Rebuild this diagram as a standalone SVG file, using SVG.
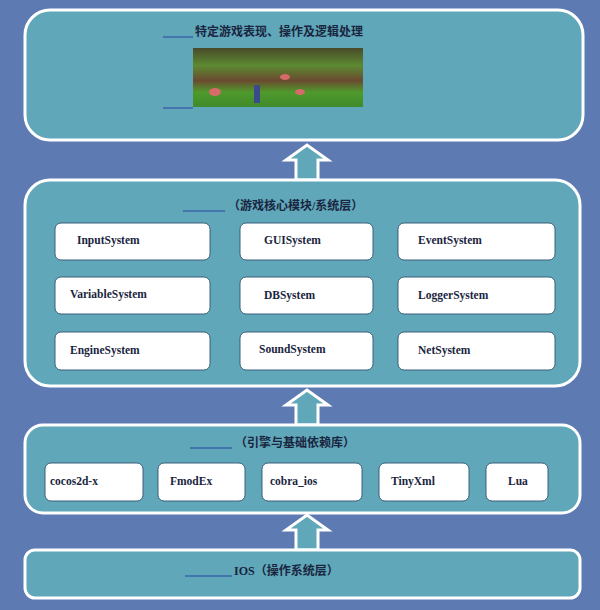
<svg xmlns="http://www.w3.org/2000/svg" width="600" height="610" viewBox="0 0 600 610">
<defs>
<style>
.panel{fill:#5fa7b9;stroke:#fff;stroke-width:3}
.box{fill:#fff;stroke:#3d5f7a;stroke-width:1}
.t{font-family:"Liberation Serif","Noto Sans CJK SC",serif;font-weight:bold;font-size:11.5px;fill:#1a2540}
.h{font-family:"Liberation Serif","Noto Sans CJK SC",serif;font-weight:bold;font-size:12px;fill:#1a2540}
.ul{stroke:#2a45a0;stroke-width:1}
.arr{fill:#5fa7b9;stroke:#fff;stroke-width:3}
</style>
<linearGradient id="g1" x1="0" y1="0" x2="0" y2="1">
<stop offset="0" stop-color="#4a4a2a"/><stop offset="0.3" stop-color="#5c8a32"/><stop offset="0.55" stop-color="#6b4a30"/><stop offset="0.75" stop-color="#4f9a2c"/><stop offset="1" stop-color="#3f8a2a"/>
</linearGradient>
</defs>
<rect width="600" height="610" fill="#5e7ab2"/>
<g id="layer-game">
<rect class="panel" x="25" y="10" width="558" height="130" rx="25"/>
<line class="ul" x1="163" y1="37" x2="193" y2="37"/>
<text class="h" x="195" y="36">特定游戏表现、操作及逻辑处理</text>
<rect x="193" y="48" width="170" height="59" fill="url(#g1)"/>
<ellipse cx="215" cy="92" rx="6" ry="4" fill="#d86a6a"/>
<ellipse cx="285" cy="77" rx="5" ry="3" fill="#d86a6a"/>
<ellipse cx="300" cy="92" rx="5" ry="3" fill="#d86a6a"/>
<rect x="254" y="85" width="6" height="18" fill="#3a4a8a"/>
<line class="ul" x1="163" y1="108" x2="193" y2="108"/>
</g>
<g id="connectors">
<path class="arr" d="M296,180 V160 H286 L307,145 L328,160 H318 V180 Z"/>
<path class="arr" d="M296,425 V405 H286 L307,390 L328,405 H318 V425 Z"/>
<path class="arr" d="M296,550 V530 H286 L307,515 L328,530 H318 V550 Z"/>
</g>
<g id="layer-core">
<rect class="panel" x="25" y="180" width="555" height="206" rx="25"/>
<line class="ul" x1="183" y1="211" x2="225" y2="211"/>
<text class="h" x="228" y="210">（游戏核心模块/系统层）</text>
</g>
<g id="n-input"><rect class="box" x="55" y="223" width="155" height="37" rx="6"/><text class="t" x="77" y="244">InputSystem</text></g>
<g id="n-gui"><rect class="box" x="240" y="223" width="133" height="37" rx="6"/><text class="t" x="264" y="244">GUISystem</text></g>
<g id="n-event"><rect class="box" x="398" y="223" width="157" height="37" rx="6"/><text class="t" x="418" y="244">EventSystem</text></g>
<g id="n-var"><rect class="box" x="55" y="277" width="155" height="37" rx="6"/><text class="t" x="70" y="298">VariableSystem</text></g>
<g id="n-db"><rect class="box" x="240" y="277" width="133" height="37" rx="6"/><text class="t" x="264" y="299">DBSystem</text></g>
<g id="n-logger"><rect class="box" x="398" y="277" width="157" height="37" rx="6"/><text class="t" x="418" y="299">LoggerSystem</text></g>
<g id="n-engine"><rect class="box" x="55" y="332" width="155" height="38" rx="6"/><text class="t" x="70" y="354">EngineSystem</text></g>
<g id="n-sound"><rect class="box" x="240" y="332" width="133" height="38" rx="6"/><text class="t" x="259" y="353">SoundSystem</text></g>
<g id="n-net"><rect class="box" x="398" y="332" width="157" height="38" rx="6"/><text class="t" x="418" y="354">NetSystem</text></g>
<g id="layer-lib">
<rect class="panel" x="25" y="425" width="555" height="88" rx="18"/>
<line class="ul" x1="190" y1="448" x2="232" y2="448"/>
<text class="h" x="235" y="447">（引擎与基础依赖库）</text>
</g>
<g id="n-cocos"><rect class="box" x="45" y="463" width="98" height="38" rx="6"/><text class="t" x="50" y="485">cocos2d-x</text></g>
<g id="n-fmod"><rect class="box" x="158" y="463" width="87" height="38" rx="6"/><text class="t" x="170" y="485">FmodEx</text></g>
<g id="n-cobra"><rect class="box" x="262" y="463" width="100" height="38" rx="6"/><text class="t" x="270" y="485">cobra_ios</text></g>
<g id="n-tinyxml"><rect class="box" x="379" y="463" width="90" height="38" rx="6"/><text class="t" x="391" y="485">TinyXml</text></g>
<g id="n-lua"><rect class="box" x="486" y="463" width="62" height="38" rx="6"/><text class="t" x="508" y="485">Lua</text></g>
<g id="layer-ios">
<rect class="panel" x="25" y="550" width="555" height="48" rx="10"/>
<line class="ul" x1="185" y1="576" x2="232" y2="576"/>
<text class="h" x="234" y="575">IOS（操作系统层）</text>
</g>
</svg>
